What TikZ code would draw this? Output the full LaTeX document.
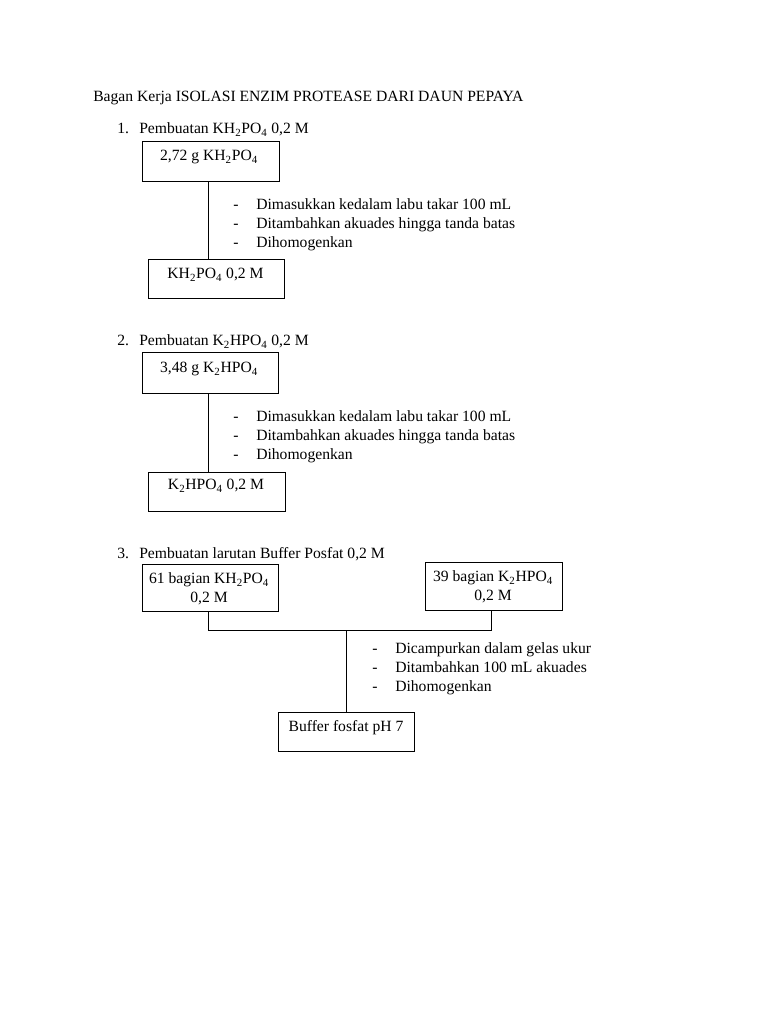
\documentclass[tikz,border=0pt]{standalone}
\usepackage{fontspec}
\setmainfont{Liberation Serif}
\usetikzlibrary{fit}
\newcommand{\sub}[1]{\textsubscript{#1}}
\begin{document}
\begin{tikzpicture}[x=0.78pt,y=-0.78pt,
  box/.style={draw,line width=0.75pt,inner sep=0pt},
  txt/.style={inner sep=0pt,anchor=base west,yshift=-1.5pt,font=\fontsize{12.2}{14}\selectfont},
  ctxt/.style={inner sep=0pt,anchor=base,yshift=-1.5pt,font=\fontsize{12.2}{14}\selectfont},
  conn/.style={line width=0.75pt}]
\useasboundingbox[fill=white] (0,0) rectangle (768,1024);

\node[txt] (title) at (93,100) {Bagan Kerja ISOLASI ENZIM PROTEASE DARI DAUN PEPAYA};

% Section 1
\node[txt] (n1) at (117,132) {1.};
\node[txt] (h1) at (139,132) {Pembuatan KH\sub{2}PO\sub{4} 0,2 M};
\node[box,fit={(142,141) (279,181)}] (b1) {};
\node[ctxt] (t1) at (209,159) {2,72 g KH\sub{2}PO\sub{4}};
\node[box,fit={(148,259) (284,298)}] (b2) {};
\node[ctxt] (t2) at (215.5,277) {KH\sub{2}PO\sub{4} 0,2 M};
\coordinate (l1) at (208,0);
\draw[conn] (b1.south -| l1) -- (b2.north -| l1);
\node[txt] (d11) at (233,208) {-};
\node[txt] (d12) at (233,227) {-};
\node[txt] (d13) at (233,246) {-};
\node[txt] (s11) at (256,208) {Dimasukkan kedalam labu takar 100 mL};
\node[txt] (s12) at (256,227) {Ditambahkan akuades hingga tanda batas};
\node[txt] (s13) at (256,246) {Dihomogenkan};

% Section 2
\node[txt] (n2) at (117,344) {2.};
\node[txt] (h2) at (139,344) {Pembuatan K\sub{2}HPO\sub{4} 0,2 M};
\node[box,fit={(142,352) (278,393)}] (b3) {};
\node[ctxt] (t3) at (209,371) {3,48 g K\sub{2}HPO\sub{4}};
\node[box,fit={(148,472) (285,511)}] (b4) {};
\node[ctxt] (t4) at (216,488) {K\sub{2}HPO\sub{4} 0,2 M};
\coordinate (l2) at (208,0);
\draw[conn] (b3.south -| l2) -- (b4.north -| l2);
\node[txt] (d21) at (233,420) {-};
\node[txt] (d22) at (233,439) {-};
\node[txt] (d23) at (233,458) {-};
\node[txt] (s21) at (256,420) {Dimasukkan kedalam labu takar 100 mL};
\node[txt] (s22) at (256,439) {Ditambahkan akuades hingga tanda batas};
\node[txt] (s23) at (256,458) {Dihomogenkan};

% Section 3
\node[txt] (n3) at (117,557) {3.};
\node[txt] (h3) at (139,557) {Pembuatan larutan Buffer Posfat 0,2 M};
\node[box,fit={(142,564) (278,611)}] (b5) {};
\node[ctxt] (t51) at (209,582) {61 bagian KH\sub{2}PO\sub{4}};
\node[ctxt] (t52) at (209,601) {0,2 M};
\node[box,fit={(425,562) (562,610)}] (b6) {};
\node[ctxt] (t61) at (493,580) {39 bagian K\sub{2}HPO\sub{4}};
\node[ctxt] (t62) at (493,599) {0,2 M};
\node[box,fit={(278,712) (414,751)}] (b7) {};
\node[ctxt] (t7) at (346,730) {Buffer fosfat pH 7};
\coordinate (j1) at (208,630);
\coordinate (j2) at (491,630);
\coordinate (j3) at (346,630);
\draw[conn] (b5.south -| j1) -- (j1) -- (j2) -- (b6.south -| j2);
\draw[conn] (j3) -- (b7.north -| j3);
\node[txt] (d31) at (372,652) {-};
\node[txt] (d32) at (372,671) {-};
\node[txt] (d33) at (372,690) {-};
\node[txt] (s31) at (395,652) {Dicampurkan dalam gelas ukur};
\node[txt] (s32) at (395,671) {Ditambahkan 100 mL akuades};
\node[txt] (s33) at (395,690) {Dihomogenkan};
\end{tikzpicture}
\end{document}
